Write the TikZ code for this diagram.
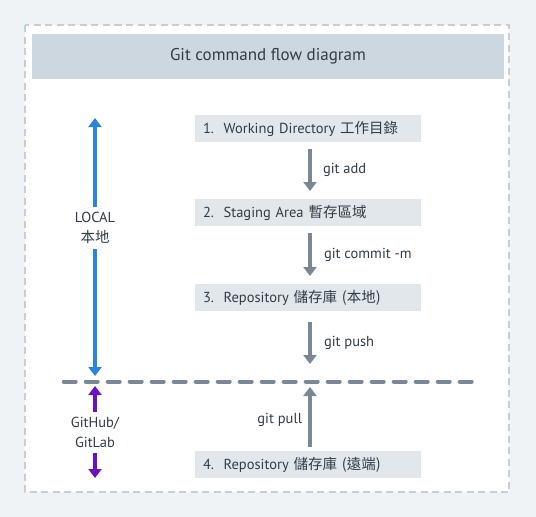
\documentclass[tikz,border=0pt]{standalone}
\usepackage{fontspec}
\setmainfont{PT Sans}
\newfontfamily\cjk{Noto Sans CJK TC}
\usetikzlibrary{arrows.meta}
\definecolor{bgc}{HTML}{EFF3F6}
\definecolor{framec}{HTML}{C6CFD8}
\definecolor{titlec}{HTML}{CDD7E0}
\definecolor{boxc}{HTML}{E2E7EC}
\definecolor{txtc}{HTML}{323C46}
\definecolor{arrc}{HTML}{7B8794}
\definecolor{bluec}{HTML}{2B86D9}
\definecolor{purc}{HTML}{6A12C2}
\tikzset{
  stagebox/.style={fill=boxc, text=txtc, minimum height=27pt, text width=210pt, inner xsep=8pt, inner ysep=0pt, align=left, font=\fontsize{14.5}{16}\selectfont},
  flowarrow/.style={draw=arrc, line width=4pt, -{Triangle[width=13pt,length=9pt]}},
  cmdlabel/.style={text=txtc, inner sep=0pt, font=\fontsize{14.5}{16}\selectfont},
  sidelabel/.style={text=txtc, inner sep=0pt, align=center, font=\fontsize{14.5}{19.5}\selectfont},
  bluearrow/.style={draw=bluec, line width=4pt, -{Triangle[width=13pt,length=9pt]}},
  purarrow/.style={draw=purc, line width=4pt, -{Triangle[width=13pt,length=9pt]}},
  sepline/.style={draw=arrc, line width=4pt, line cap=round, dash pattern=on 12pt off 10pt},
}
\begin{document}
\begin{tikzpicture}[x=1pt,y=-1pt]
\useasboundingbox (0,0) rectangle (536,517);
\fill[bgc] (0,0) rectangle (536,517);
\draw[framec, line width=1.6pt, dash pattern=on 7pt off 4.5pt, fill=white] (25,25) rectangle (509,492);
\node[fill=titlec, text=txtc, minimum width=472pt, minimum height=45pt, inner sep=0pt, font=\fontsize{17}{19}\selectfont] (title) at (268,56.5) {Git command flow diagram};

\node[stagebox] (s1) at (308,128.5) {1.\ \ Working Directory {\cjk 工作目錄}};
\node[stagebox] (s2) at (308,212.5) {2.\ \ Staging Area {\cjk 暫存區域}};
\node[stagebox] (s3) at (308,297.5) {3.\ \ Repository {\cjk 儲存庫 (本地)}};
\node[stagebox] (s4) at (308,464.5) {4.\ \ Repository {\cjk 儲存庫 (遠端)}};

\coordinate (sepL) at (63.7,381.5);
\coordinate (sepR) at (471.7,381.5);
\draw[sepline] (sepL) -- (sepR);

\coordinate (a1s) at (310,149); \coordinate (a1e) at (310,191);
\coordinate (a2s) at (310,233); \coordinate (a2e) at (310,276);
\coordinate (a3s) at (310,322); \coordinate (a3e) at (310,364);
\coordinate (a4s) at (310,447); \coordinate (a4e) at (310,387);

\draw[flowarrow] (a1s) -- (a1e) node[cmdlabel, midway, anchor=west, xshift=11pt] {git add};
\draw[flowarrow] (a2s) -- (a2e) node[cmdlabel, midway, anchor=west, xshift=12pt] {git commit -m};
\draw[flowarrow] (a3s) -- (a3e) node[cmdlabel, midway, anchor=west, xshift=12pt] {git push};
\draw[flowarrow] (a4s) -- (a4e) node[cmdlabel, midway, anchor=east, xshift=-6pt, yshift=-3pt] {git pull};

\node[sidelabel, minimum height=42pt] (local) at (95,228) {LOCAL\\{\cjk 本地}};
\coordinate (ltop) at (95,118);
\coordinate (lbot) at (95,376);
\draw[bluearrow] (local.north) -- (ltop);
\draw[bluearrow] (local.south) -- (lbot);

\node[sidelabel, minimum height=41pt] (remote) at (95,432.5) {GitHub/\\GitLab};
\coordinate (rtop) at (95,386);
\coordinate (rbot) at (95,478);
\draw[purarrow] (remote.north) -- (rtop);
\draw[purarrow] (remote.south) -- (rbot);
\end{tikzpicture}
\end{document}
